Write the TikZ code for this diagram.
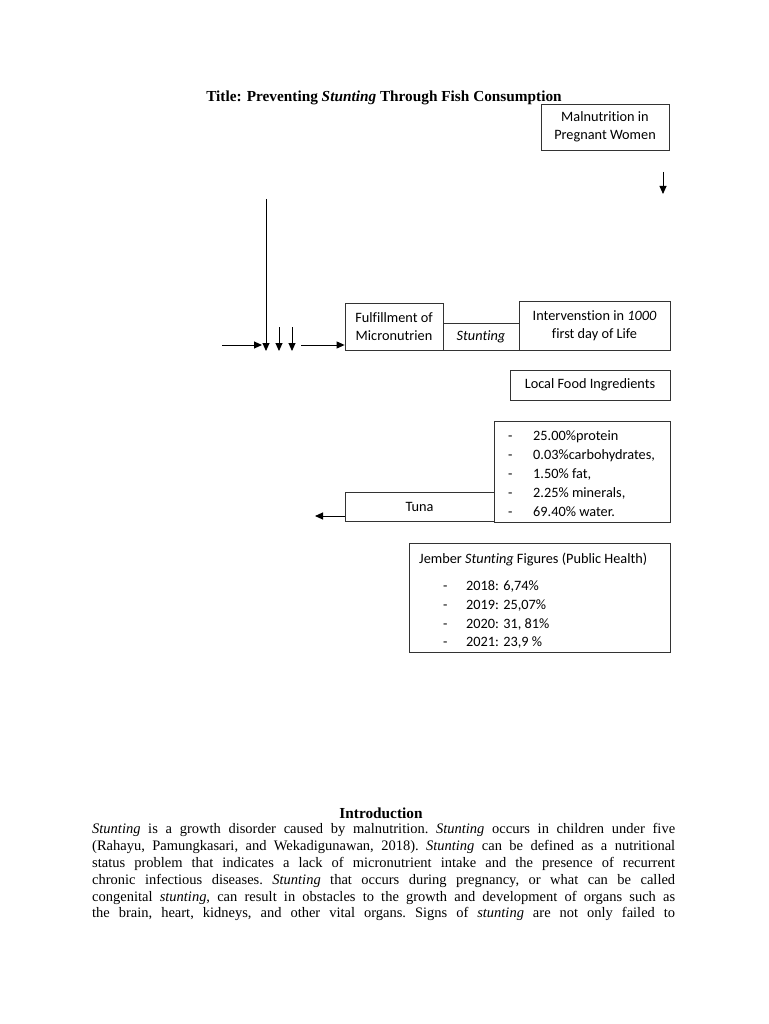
\documentclass[tikz,border=0pt]{standalone}
\usepackage{fontspec}
\setmainfont{Liberation Serif}
\newfontfamily\boxfont[Ligatures=NoCommon]{Carlito}
\usetikzlibrary{arrows.meta}
\begin{document}
\begin{tikzpicture}[x=1pt,y=-1pt,
  box/.style={draw=black!80,line width=0.8pt,inner sep=0pt,font=\boxfont\fontsize{14.3}{18.5}\selectfont,align=center},
  arr/.style={-{Triangle[length=8pt,width=7pt]},line width=0.9pt},
  txt/.style={inner sep=0pt}]
\useasboundingbox[fill=white] (0,0) rectangle (768,1024);
\node[txt,font=\fontsize{15.3}{17}\selectfont\bfseries] (title) at (384,97.5) {Title: Preventing \textit{Stunting} Through Fish Consumption};
% boxes
\node[box,minimum width=128pt,minimum height=46pt] (mal) at (605,127) {Malnutrition in\\Pregnant Women};
\node[box,minimum width=98pt,minimum height=47pt] (ful) at (394,326.5) {Fulfillment of\\Micronutrien};
\node[box,minimum width=76pt,minimum height=27pt] (stu) at (481,336.5) {\itshape Stunting};
\node[box,minimum width=151pt,minimum height=49pt] (int) at (594.5,325.5) {Intervenstion in \textit{1000}\\first day of Life};
\node[box,minimum width=160pt,minimum height=30pt] (loc) at (590,385) {Local Food Ingredients};
\node[box,minimum width=149pt,minimum height=29pt] (tuna) at (419.5,506.5) {Tuna};
\node[box,minimum width=176pt,minimum height=101pt,anchor=north west] (nut) at (494,421) {};
\node[txt,anchor=north west,font=\boxfont\fontsize{14.3}{18.9}\selectfont,align=left] (nutt) at (508,430.5) {%
\makebox[25pt][l]{-}25.00\%protein\\
\makebox[25pt][l]{-}0.03\%carbohydrates,\\
\makebox[25pt][l]{-}1.50\% fat,\\
\makebox[25pt][l]{-}2.25\% minerals,\\
\makebox[25pt][l]{-}69.40\% water.};
\node[box,minimum width=261pt,minimum height=109pt,anchor=north west] (jem) at (409,543) {};
\node[txt,anchor=north west,font=\boxfont\fontsize{14.3}{18.8}\selectfont,align=left] (jemt) at (419,553) {%
Jember \textit{Stunting} Figures (Public Health)\\[8pt]
\hspace*{24pt}\makebox[23pt][l]{-}2018: 6,74\%\\
\hspace*{24pt}\makebox[23pt][l]{-}2019: 25,07\%\\
\hspace*{24pt}\makebox[23pt][l]{-}2020: 31, 81\%\\
\hspace*{24pt}\makebox[23pt][l]{-}2021: 23,9 \%};
% arrows
\coordinate (a1s) at (663,172); \coordinate (a1e) at (663,194);
\draw[arr] (a1s) -- (a1e);
\coordinate (v1s) at (266,199); \coordinate (v1e) at (266,351);
\draw[arr] (v1s) -- (v1e);
\coordinate (v2s) at (279,327); \coordinate (v2e) at (279,351);
\draw[arr] (v2s) -- (v2e);
\coordinate (v3s) at (292,327); \coordinate (v3e) at (292,351);
\draw[arr] (v3s) -- (v3e);
\coordinate (h1s) at (222,345); \coordinate (h1e) at (262,345);
\draw[arr] (h1s) -- (h1e);
\coordinate (h2s) at (301,345);
\draw[arr] (h2s) -- (ful.west |- h2s);
\coordinate (t1e) at (315,516);
\draw[arr] (tuna.west |- t1e) -- (t1e);
% text
\node[txt,font=\fontsize{15.3}{17}\selectfont\bfseries] (intro) at (381,813) {Introduction};
\node[txt,anchor=north west,text width=583pt,align=justify,font=\fontsize{14.5}{16.8}\selectfont] (para) at (92,823.5) {\frenchspacing
\textit{Stunting} is a growth disorder caused by malnutrition. \textit{Stunting} occurs in children under five\linebreak
(Rahayu, Pamungkasari, and Wekadigunawan, 2018). \textit{Stunting} can be defined as a nutritional\linebreak
status problem that indicates a lack of micronutrient intake and the presence of recurrent\linebreak
chronic infectious diseases. \textit{Stunting} that occurs during pregnancy, or what can be called\linebreak
congenital \textit{stunting}, can result in obstacles to the growth and development of organs such as\linebreak
the brain, heart, kidneys, and other vital organs. Signs of \textit{stunting} are not only failed to\parfillskip=0pt\par};
\end{tikzpicture}
\end{document}
